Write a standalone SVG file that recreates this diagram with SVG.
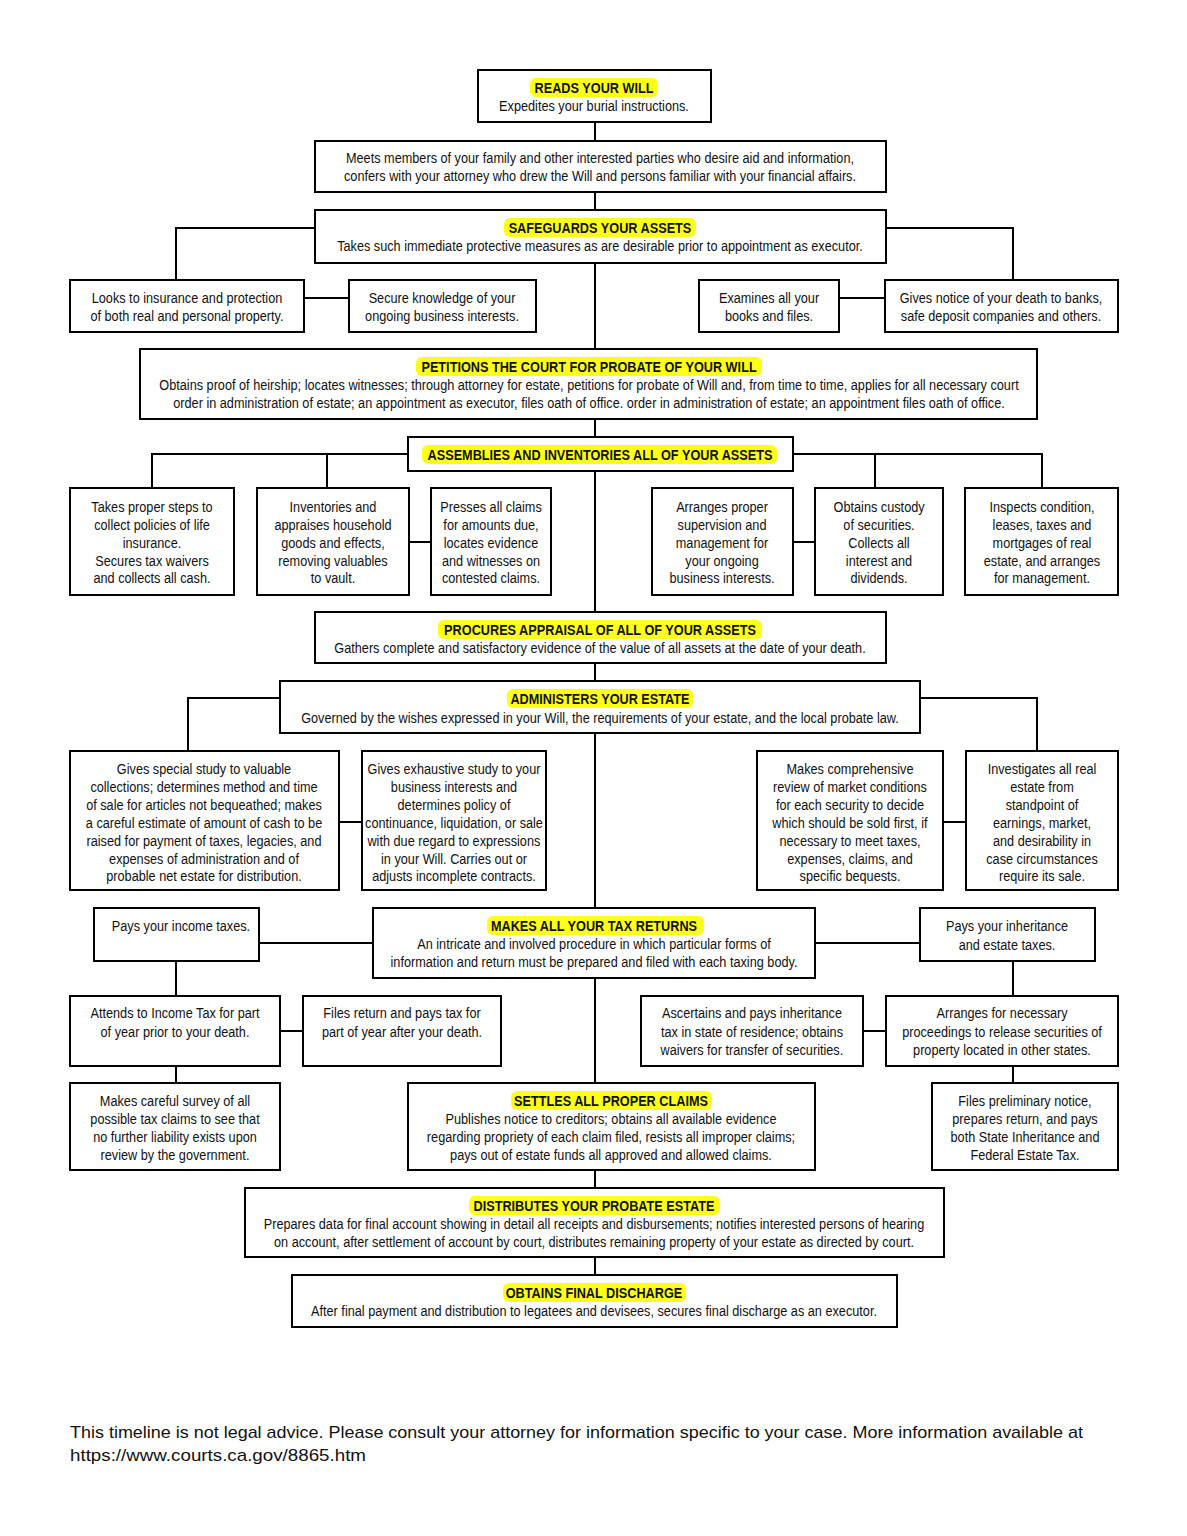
<svg xmlns="http://www.w3.org/2000/svg" width="1187" height="1536" viewBox="0 0 1187 1536">
<style>
.b{fill:#fff;stroke:#000;stroke-width:2}
.l{fill:none;stroke:#000;stroke-width:2}
.h{fill:#ffff1a}
text{font-family:"Liberation Sans Narrow","Arial Narrow","Liberation Sans",Arial,sans-serif;font-size:15.5px;fill:#111;text-anchor:middle;transform-box:fill-box;transform-origin:center;transform:scaleX(0.82)}
.t{font-weight:bold}
text.f{font-family:"Liberation Sans",Arial,sans-serif;font-size:17px;text-anchor:start;transform:none}
</style>
<rect width="1187" height="1536" fill="#fff"/>
<g id="connectors">
<path class="l" d="M595 122V141M595 192V210M595 263V349M595 419V437M595 471V612M595 663V681M595 733V908M595 978V1083M595 1170V1188M595 1257V1275"/>
<path class="l" d="M315 228H176V280M886 228H1013V280M304 298H349M839 298H885"/>
<path class="l" d="M408 454H152V488M327 454V488M793 454H1042V488M875 454V488M409 542H431M793 542H815"/>
<path class="l" d="M280 698H188V751M920 698H1037V751M339 822H362M943 822H966"/>
<path class="l" d="M259 943H373M815 943H920M176 961V996M176 1066V1083M280 1031H303M1013 961V996M1013 1066V1083M863 1031H886"/>
</g>
<g id="n1"><rect class="b" x="478" y="70" width="233" height="52"/><rect class="h" x="530" y="78" width="128" height="19" rx="6"/><text class="t" x="594" y="93">READS YOUR WILL</text><text x="594" y="111">Expedites your burial instructions.</text></g>
<g id="n2"><rect class="b" x="315" y="141" width="571" height="51"/><text x="600" y="163">Meets members of your family and other interested parties who desire aid and information,</text><text x="600" y="181">confers with your attorney who drew the Will and persons familiar with your financial affairs.</text></g>
<g id="n3"><rect class="b" x="315" y="210" width="571" height="53"/><rect class="h" x="504" y="218" width="192" height="19" rx="6"/><text class="t" x="600" y="233">SAFEGUARDS YOUR ASSETS</text><text x="600" y="251">Takes such immediate protective measures as are desirable prior to appointment as executor.</text></g>
<g id="n4"><rect class="b" x="70" y="280" width="234" height="52"/><text x="187" y="303">Looks to insurance and protection</text><text x="187" y="321">of both real and personal property.</text></g>
<g id="n5"><rect class="b" x="349" y="280" width="187" height="52"/><text x="442" y="303">Secure knowledge of your</text><text x="442" y="321">ongoing business interests.</text></g>
<g id="n6"><rect class="b" x="699" y="280" width="140" height="52"/><text x="769" y="303">Examines all your</text><text x="769" y="321">books and files.</text></g>
<g id="n7"><rect class="b" x="885" y="280" width="233" height="52"/><text x="1001" y="303">Gives notice of your death to banks,</text><text x="1001" y="321">safe deposit companies and others.</text></g>
<g id="n8"><rect class="b" x="140" y="349" width="897" height="70"/><rect class="h" x="416" y="357" width="346" height="19" rx="6"/><text class="t" x="589" y="372">PETITIONS THE COURT FOR PROBATE OF YOUR WILL</text><text x="589" y="390">Obtains proof of heirship; locates witnesses; through attorney for estate, petitions for probate of Will and, from time to time, applies for all necessary court</text><text x="589" y="408">order in administration of estate; an appointment as executor, files oath of office. order in administration of estate; an appointment files oath of office.</text></g>
<g id="n9"><rect class="b" x="408" y="437" width="385" height="34"/><rect class="h" x="422" y="445" width="355" height="19" rx="6"/><text class="t" x="600" y="460">ASSEMBLIES AND INVENTORIES ALL OF YOUR ASSETS</text></g>
<g id="n10"><rect class="b" x="70" y="488" width="164" height="107"/><text x="152" y="512">Takes proper steps to</text><text x="152" y="530">collect policies of life</text><text x="152" y="548">insurance.</text><text x="152" y="566">Secures tax waivers</text><text x="152" y="583">and collects all cash.</text></g>
<g id="n11"><rect class="b" x="257" y="488" width="152" height="107"/><text x="333" y="512">Inventories and</text><text x="333" y="530">appraises household</text><text x="333" y="548">goods and effects,</text><text x="333" y="566">removing valuables</text><text x="333" y="583">to vault.</text></g>
<g id="n12"><rect class="b" x="431" y="488" width="120" height="107"/><text x="491" y="512">Presses all claims</text><text x="491" y="530">for amounts due,</text><text x="491" y="548">locates evidence</text><text x="491" y="566">and witnesses on</text><text x="491" y="583">contested claims.</text></g>
<g id="n13"><rect class="b" x="652" y="488" width="141" height="107"/><text x="722" y="512">Arranges proper</text><text x="722" y="530">supervision and</text><text x="722" y="548">management for</text><text x="722" y="566">your ongoing</text><text x="722" y="583">business interests.</text></g>
<g id="n14"><rect class="b" x="815" y="488" width="128" height="107"/><text x="879" y="512">Obtains custody</text><text x="879" y="530">of securities.</text><text x="879" y="548">Collects all</text><text x="879" y="566">interest and</text><text x="879" y="583">dividends.</text></g>
<g id="n15"><rect class="b" x="965" y="488" width="153" height="107"/><text x="1042" y="512">Inspects condition,</text><text x="1042" y="530">leases, taxes and</text><text x="1042" y="548">mortgages of real</text><text x="1042" y="566">estate, and arranges</text><text x="1042" y="583">for management.</text></g>
<g id="n16"><rect class="b" x="315" y="612" width="571" height="51"/><rect class="h" x="438" y="620" width="324" height="19" rx="6"/><text class="t" x="600" y="635">PROCURES APPRAISAL OF ALL OF YOUR ASSETS</text><text x="600" y="653">Gathers complete and satisfactory evidence of the value of all assets at the date of your death.</text></g>
<g id="n17"><rect class="b" x="280" y="681" width="640" height="52"/><rect class="h" x="507" y="689" width="186" height="19" rx="6"/><text class="t" x="600" y="704">ADMINISTERS YOUR ESTATE</text><text x="600" y="723">Governed by the wishes expressed in your Will, the requirements of your estate, and the local probate law.</text></g>
<g id="n18"><rect class="b" x="70" y="751" width="269" height="139"/><text x="204" y="774">Gives special study to valuable</text><text x="204" y="792">collections; determines method and time</text><text x="204" y="810">of sale for articles not bequeathed; makes</text><text x="204" y="828">a careful estimate of amount of cash to be</text><text x="204" y="846">raised for payment of taxes, legacies, and</text><text x="204" y="864">expenses of administration and of</text><text x="204" y="881">probable net estate for distribution.</text></g>
<g id="n19"><rect class="b" x="362" y="751" width="184" height="139"/><text x="454" y="774">Gives exhaustive study to your</text><text x="454" y="792">business interests and</text><text x="454" y="810">determines policy of</text><text x="454" y="828">continuance, liquidation, or sale</text><text x="454" y="846">with due regard to expressions</text><text x="454" y="864">in your Will.  Carries out or</text><text x="454" y="881">adjusts incomplete contracts.</text></g>
<g id="n20"><rect class="b" x="757" y="751" width="186" height="139"/><text x="850" y="774">Makes comprehensive</text><text x="850" y="792">review of market conditions</text><text x="850" y="810">for each security to decide</text><text x="850" y="828">which should be sold first, if</text><text x="850" y="846">necessary to meet taxes,</text><text x="850" y="864">expenses, claims, and</text><text x="850" y="881">specific bequests.</text></g>
<g id="n21"><rect class="b" x="966" y="751" width="152" height="139"/><text x="1042" y="774">Investigates all real</text><text x="1042" y="792">estate from</text><text x="1042" y="810">standpoint of</text><text x="1042" y="828">earnings, market,</text><text x="1042" y="846">and desirability in</text><text x="1042" y="864">case circumstances</text><text x="1042" y="881">require its sale.</text></g>
<g id="n22"><rect class="b" x="373" y="908" width="442" height="70"/><rect class="h" x="487" y="916" width="217" height="19" rx="6"/><text class="t" x="594" y="931">MAKES ALL YOUR TAX RETURNS</text><text x="594" y="949">An intricate and involved procedure in which particular forms of</text><text x="594" y="967">information and return must be prepared and filed with each taxing body.</text></g>
<g id="n23"><rect class="b" x="94" y="908" width="165" height="53"/><text x="181" y="931">Pays your income taxes.</text></g>
<g id="n24"><rect class="b" x="920" y="908" width="175" height="53"/><text x="1007" y="931">Pays your inheritance</text><text x="1007" y="950">and estate taxes.</text></g>
<g id="n25"><rect class="b" x="70" y="996" width="210" height="70"/><text x="175" y="1018">Attends to Income Tax for part</text><text x="175" y="1037">of year prior to your death.</text></g>
<g id="n26"><rect class="b" x="303" y="996" width="198" height="70"/><text x="402" y="1018">Files return and pays tax for</text><text x="402" y="1037">part of year after your death.</text></g>
<g id="n27"><rect class="b" x="641" y="996" width="222" height="70"/><text x="752" y="1018">Ascertains and pays inheritance</text><text x="752" y="1037">tax in state of residence; obtains</text><text x="752" y="1055">waivers for transfer of securities.</text></g>
<g id="n28"><rect class="b" x="886" y="996" width="232" height="70"/><text x="1002" y="1018">Arranges for necessary</text><text x="1002" y="1037">proceedings to release securities of</text><text x="1002" y="1055">property located in other states.</text></g>
<g id="n29"><rect class="b" x="70" y="1083" width="210" height="87"/><text x="175" y="1106">Makes careful survey of all</text><text x="175" y="1124">possible tax claims to see that</text><text x="175" y="1142">no further liability exists upon</text><text x="175" y="1160">review by the government.</text></g>
<g id="n30"><rect class="b" x="408" y="1083" width="407" height="87"/><rect class="h" x="511" y="1091" width="201" height="19" rx="6"/><text class="t" x="611" y="1106">SETTLES ALL PROPER CLAIMS</text><text x="611" y="1124">Publishes notice to creditors; obtains all available evidence</text><text x="611" y="1142">regarding propriety of each claim filed, resists all improper claims;</text><text x="611" y="1160">pays out of estate funds all approved and allowed claims.</text></g>
<g id="n31"><rect class="b" x="932" y="1083" width="186" height="87"/><text x="1025" y="1106">Files preliminary notice,</text><text x="1025" y="1124">prepares return, and pays</text><text x="1025" y="1142">both State Inheritance and</text><text x="1025" y="1160">Federal Estate Tax.</text></g>
<g id="n32"><rect class="b" x="245" y="1188" width="699" height="69"/><rect class="h" x="469" y="1196" width="251" height="19" rx="6"/><text class="t" x="594" y="1211">DISTRIBUTES YOUR PROBATE ESTATE</text><text x="594" y="1229">Prepares data for final account showing in detail all receipts and disbursements; notifies interested persons of hearing</text><text x="594" y="1247">on account, after settlement of account by court, distributes remaining property of your estate as directed by court.</text></g>
<g id="n33"><rect class="b" x="292" y="1275" width="605" height="52"/><rect class="h" x="503" y="1283" width="183" height="19" rx="6"/><text class="t" x="594" y="1298">OBTAINS FINAL DISCHARGE</text><text x="594" y="1316">After final payment and distribution to legatees and devisees, secures final discharge as an executor.</text></g>
<g id="footer"><text class="f" x="70" y="1438" textLength="1013" lengthAdjust="spacingAndGlyphs">This timeline is not legal advice. Please consult your attorney for information specific to your case. More information available at</text><text class="f" x="70" y="1461" textLength="296" lengthAdjust="spacingAndGlyphs">https://www.courts.ca.gov/8865.htm</text></g>
</svg>
